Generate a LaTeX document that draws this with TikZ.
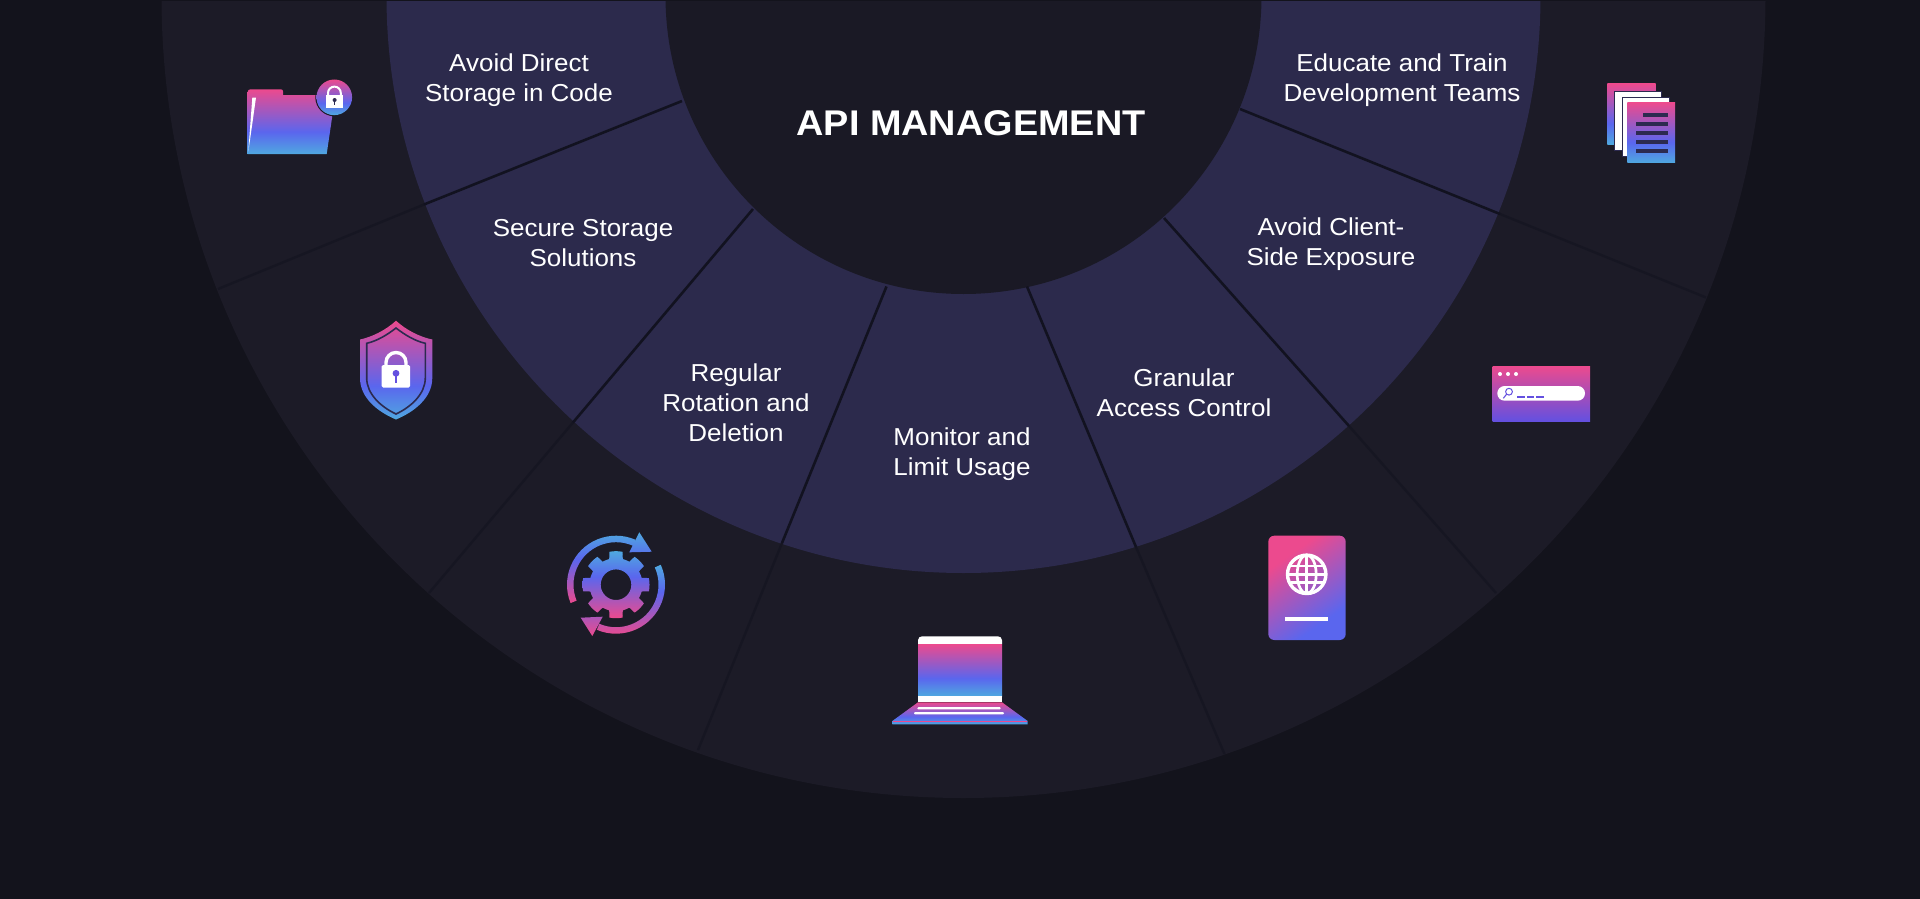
\documentclass[tikz,border=0pt]{standalone}
\usepackage{fontspec}
\setmainfont[FakeStretch=1.06]{Liberation Sans}
\usetikzlibrary{calc}
\definecolor{bgc}{HTML}{13131C}
\definecolor{outerc}{HTML}{1C1B27}
\definecolor{midc}{HTML}{2C2A4C}
\definecolor{innerc}{HTML}{1A1925}
\definecolor{divc}{HTML}{121220}
\definecolor{divfaint}{HTML}{161622}
\definecolor{pinkc}{HTML}{EC4A8E}
\definecolor{bluec}{HTML}{5A66EE}
\definecolor{skyc}{HTML}{4FA8E0}
\definecolor{violc}{HTML}{6450E0}
\definecolor{darkc}{HTML}{2C2A50}
\pgfdeclareverticalshading{icondown}{100bp}{color(0bp)=(skyc); color(25bp)=(skyc); color(42bp)=(bluec); color(75bp)=(pinkc); color(100bp)=(pinkc)}
\pgfdeclareverticalshading{iconup}{100bp}{color(0bp)=(pinkc); color(25bp)=(pinkc); color(56bp)=(bluec); color(75bp)=(skyc); color(100bp)=(skyc)}
\pgfdeclareverticalshading{iconviol}{100bp}{color(0bp)=(violc); color(25bp)=(violc); color(75bp)=(pinkc); color(100bp)=(pinkc)}
\pgfdeclareverticalshading{icondiag}{100bp}{color(0bp)=(bluec); color(30bp)=(bluec); color(70bp)=(pinkc); color(100bp)=(pinkc)}
\newcommand{\ringpart}[6]{(#1+#3*cos #5,#2+#3*sin #5) arc[start angle=#5,end angle=#6,radius=#3] -- ({#1+#4*cos(#6)},{#2+#4*sin(#6)}) arc[start angle=#6,end angle=#5,radius=#4] -- cycle}
\tikzset{
  lbl/.style={text=white,align=center,font=\fontsize{24.5}{30}\selectfont,inner sep=0pt},
  divider/.style={draw=divc,line width=2.6pt},
  outerdivider/.style={draw=divfaint,line width=2.4pt},
  whitepart/.style={fill=white,draw=none},
  thinbar/.style={fill=darkc,draw=none}
}
\begin{document}
\begin{tikzpicture}[x=1pt,y=1pt,yscale=-1]
\useasboundingbox (0,0) rectangle (1920,899);
\clip (0,0) rectangle (1920,899);
\fill[bgc] (0,0) rectangle (1920,899);
% rings
\coordinate (c) at (963.5,-4);
\fill[outerc] (c) circle[radius=802];
\fill[midc] (c) circle[radius=577];
\fill[innerc] (c) circle[radius=298];
\fill[bgc] (155,0) rectangle (1775,1.2);
% dividers
\coordinate (a1) at (682,101); \coordinate (m1) at (424,204.5); \coordinate (b1) at (218,289);
\coordinate (a2) at (753,209); \coordinate (m2) at (573,422.5); \coordinate (b2) at (429,593);
\coordinate (a3) at (886.5,286.5); \coordinate (m3) at (782,543); \coordinate (b3) at (698,750);
\coordinate (a4) at (1027,286.5); \coordinate (m4) at (1136,547); \coordinate (b4) at (1224.5,754);
\coordinate (a5) at (1164,218); \coordinate (m5) at (1349,426); \coordinate (b5) at (1496,593);
\coordinate (a6) at (1240,109); \coordinate (m6) at (1500,214); \coordinate (b6) at (1706,297.5);
\foreach \i in {1,...,6} {\draw[outerdivider] (m\i) -- (b\i); \draw[divider] (a\i) -- (m\i);}
% labels
\node[lbl] (t1) at (519,80) {Avoid Direct\\Storage in Code};
\node[lbl] (t2) at (583,243) {Secure Storage\\Solutions};
\node[lbl] (t3) at (736,403) {Regular\\Rotation and\\Deletion};
\node[lbl] (t4) at (962,454) {Monitor and\\Limit Usage};
\node[lbl] (t5) at (1184,393) {Granular\\Access Control};
\node[lbl] (t6) at (1331,244) {Avoid Client-\\Side Exposure};
\node[lbl] (t7) at (1402,80) {Educate and Train\\Development Teams};
\node[text=white,inner sep=0pt,font=\fontsize{35.7}{44}\selectfont\bfseries] (title) at (971,123) {API MANAGEMENT};
% folder icon
\shade[shading=icondown] (247.7,92) arc[start angle=180,end angle=270,radius=2.7] -- (281,89.3) arc[start angle=270,end angle=360,radius=2] -- (283,95) -- (332,95) -- (332,118) -- (326.7,154) -- (247.7,154) -- cycle;
\fill[white] (252.3,97.7) -- (256,97.7) -- (248.3,151.7) -- cycle;
\draw[outerc,line width=1.2pt] (334.3,97.3) circle[radius=18.4];
\shade[shading=icondown] (334.3,97.3) circle[radius=17.8];
\fill[whitepart] (326,95) rectangle (343.3,108.3);
\draw[white,line width=2pt] (328,95) -- (328,93) arc[start angle=180,end angle=360,radius=6.4] -- (340.8,95);
\fill[darkc] (334.6,100) circle[radius=2];
\fill[darkc] (333.8,100) rectangle (335.4,105);
% shield icon
\shade[shading=icondown] (396,320.7) .. controls (386,330) and (372,337) .. (360,339.5) -- (360,378) .. controls (360,398) and (378,412) .. (396,419.5) .. controls (414,412) and (432.3,398) .. (432.3,378) -- (432.3,339.5) .. controls (420,337) and (406,330) .. (396,320.7) -- cycle;
\draw[darkc,line width=1.6pt] (396,328) .. controls (387,335) and (377,341) .. (366.7,343.3) -- (366.7,378) .. controls (366.7,394) and (381,407) .. (396,414) .. controls (411,407) and (425.3,394) .. (425.3,378) -- (425.3,343.3) .. controls (415,341) and (405,335) .. (396,328) -- cycle;
\fill[white,rounded corners=1.5pt] (381.7,365) rectangle (410,387.7);
\draw[white,line width=3.4pt] (386,366) -- (386,362.5) arc[start angle=180,end angle=360,radius=10] -- (406,366);
\fill[violc] (396,373.3) circle[radius=3.4];
\fill[violc] (394.6,374) rectangle (397.4,383);
% gear icon
\shade[shading=iconup,even odd rule] plot[domain=0:360,samples=289] ({616+(26.5+7*max(0,min(1,2.5*cos(8*\x)+1.1)))*cos(\x)},{584.7+(26.5+7*max(0,min(1,2.5*cos(8*\x)+1.1)))*sin(\x)}) -- cycle (616,584.7) circle[radius=15.3];
\shade[shading=iconup] \ringpart{616}{584.7}{49}{42.5}{158}{293} (639.3,532.3) -- (651.7,551.7) -- (629.3,552.3) -- cycle;
\shade[shading=iconup] \ringpart{616}{584.7}{49}{42.5}{-24}{113} (580.7,617.7) -- (602.7,616.7) -- (592.3,636) -- cycle;
% laptop icon
\fill[white] (918,644) -- (918,640.3) arc[start angle=180,end angle=270,radius=4] -- (998,636.3) arc[start angle=270,end angle=360,radius=4] -- (1002,644) -- cycle;
\shade[shading=icondown] (918,644) rectangle (1002,696);
\fill[white] (918,696) rectangle (1002,702.3);
\shade[shading=icondown] (918,702.3) -- (1002,702.3) -- (1027.7,721) -- (1027.7,724.3) -- (892.3,724.3) -- (892.3,721) -- cycle;
\draw[pinkc,line width=0.9pt] (893,721.3) -- (1027,721.3);
\fill[white,rounded corners=1pt] (917.3,707.2) rectangle (1000.7,709.4);
\fill[white,rounded corners=1pt] (914,712.2) rectangle (1004,714.4);
% passport icon
\shade[shading=icondiag,shading angle=35,rounded corners=6pt] (1268.3,535.7) rectangle (1345.7,640);
\draw[white,line width=3.4pt] (1306.7,574.3) circle[radius=19.2];
\draw[white,line width=2.7pt] (1306.7,574.3) ellipse[x radius=9.5,y radius=19.2];
\draw[white,line width=2.7pt] (1306.7,555) -- (1306.7,593.5);
\draw[white,line width=2.7pt] (1287.5,574.3) -- (1326,574.3);
\draw[white,line width=2.7pt] (1290.5,566) -- (1323,566);
\draw[white,line width=2.7pt] (1290.5,582.6) -- (1323,582.6);
\fill[white] (1285,617.3) rectangle (1328.3,621.3);
% browser icon
\shade[shading=iconviol] (1492.7,366) rectangle (1590,421);
\foreach \dx in {1500,1508,1516} \fill[white] (\dx,374) circle[radius=2];
\fill[white,rounded corners=7.3pt] (1497.3,386) rectangle (1585,400.7);
\draw[violc,line width=1pt] (1509,391.7) circle[radius=3.4];
\draw[violc,line width=1.1pt] (1506.6,394.2) -- (1503.3,398.3);
\draw[violc,line width=1.4pt] (1517.3,397) -- (1525,397);
\draw[violc,line width=1.4pt] (1527,397) -- (1534.3,397);
\draw[violc,line width=1.4pt] (1536,397) -- (1544,397);
% documents icon
\shade[shading=icondown] (1607.3,84) rectangle (1655.7,144);
\filldraw[fill=white,draw=darkc,line width=1pt] (1614,91) rectangle (1661,150);
\filldraw[fill=white,draw=darkc,line width=1pt] (1622.3,97.3) rectangle (1669,156);
\shade[shading=icondown] (1627.3,102.7) rectangle (1675,162.7);
\fill[thinbar] (1642.7,112.7) rectangle (1667.7,116.7);
\fill[thinbar] (1636,121.7) rectangle (1667.7,125.7);
\fill[thinbar] (1636,130.7) rectangle (1667.7,134.7);
\fill[thinbar] (1636,139.7) rectangle (1667.7,143.7);
\fill[thinbar] (1636,148.7) rectangle (1667.7,152.7);
\end{tikzpicture}
\end{document}
